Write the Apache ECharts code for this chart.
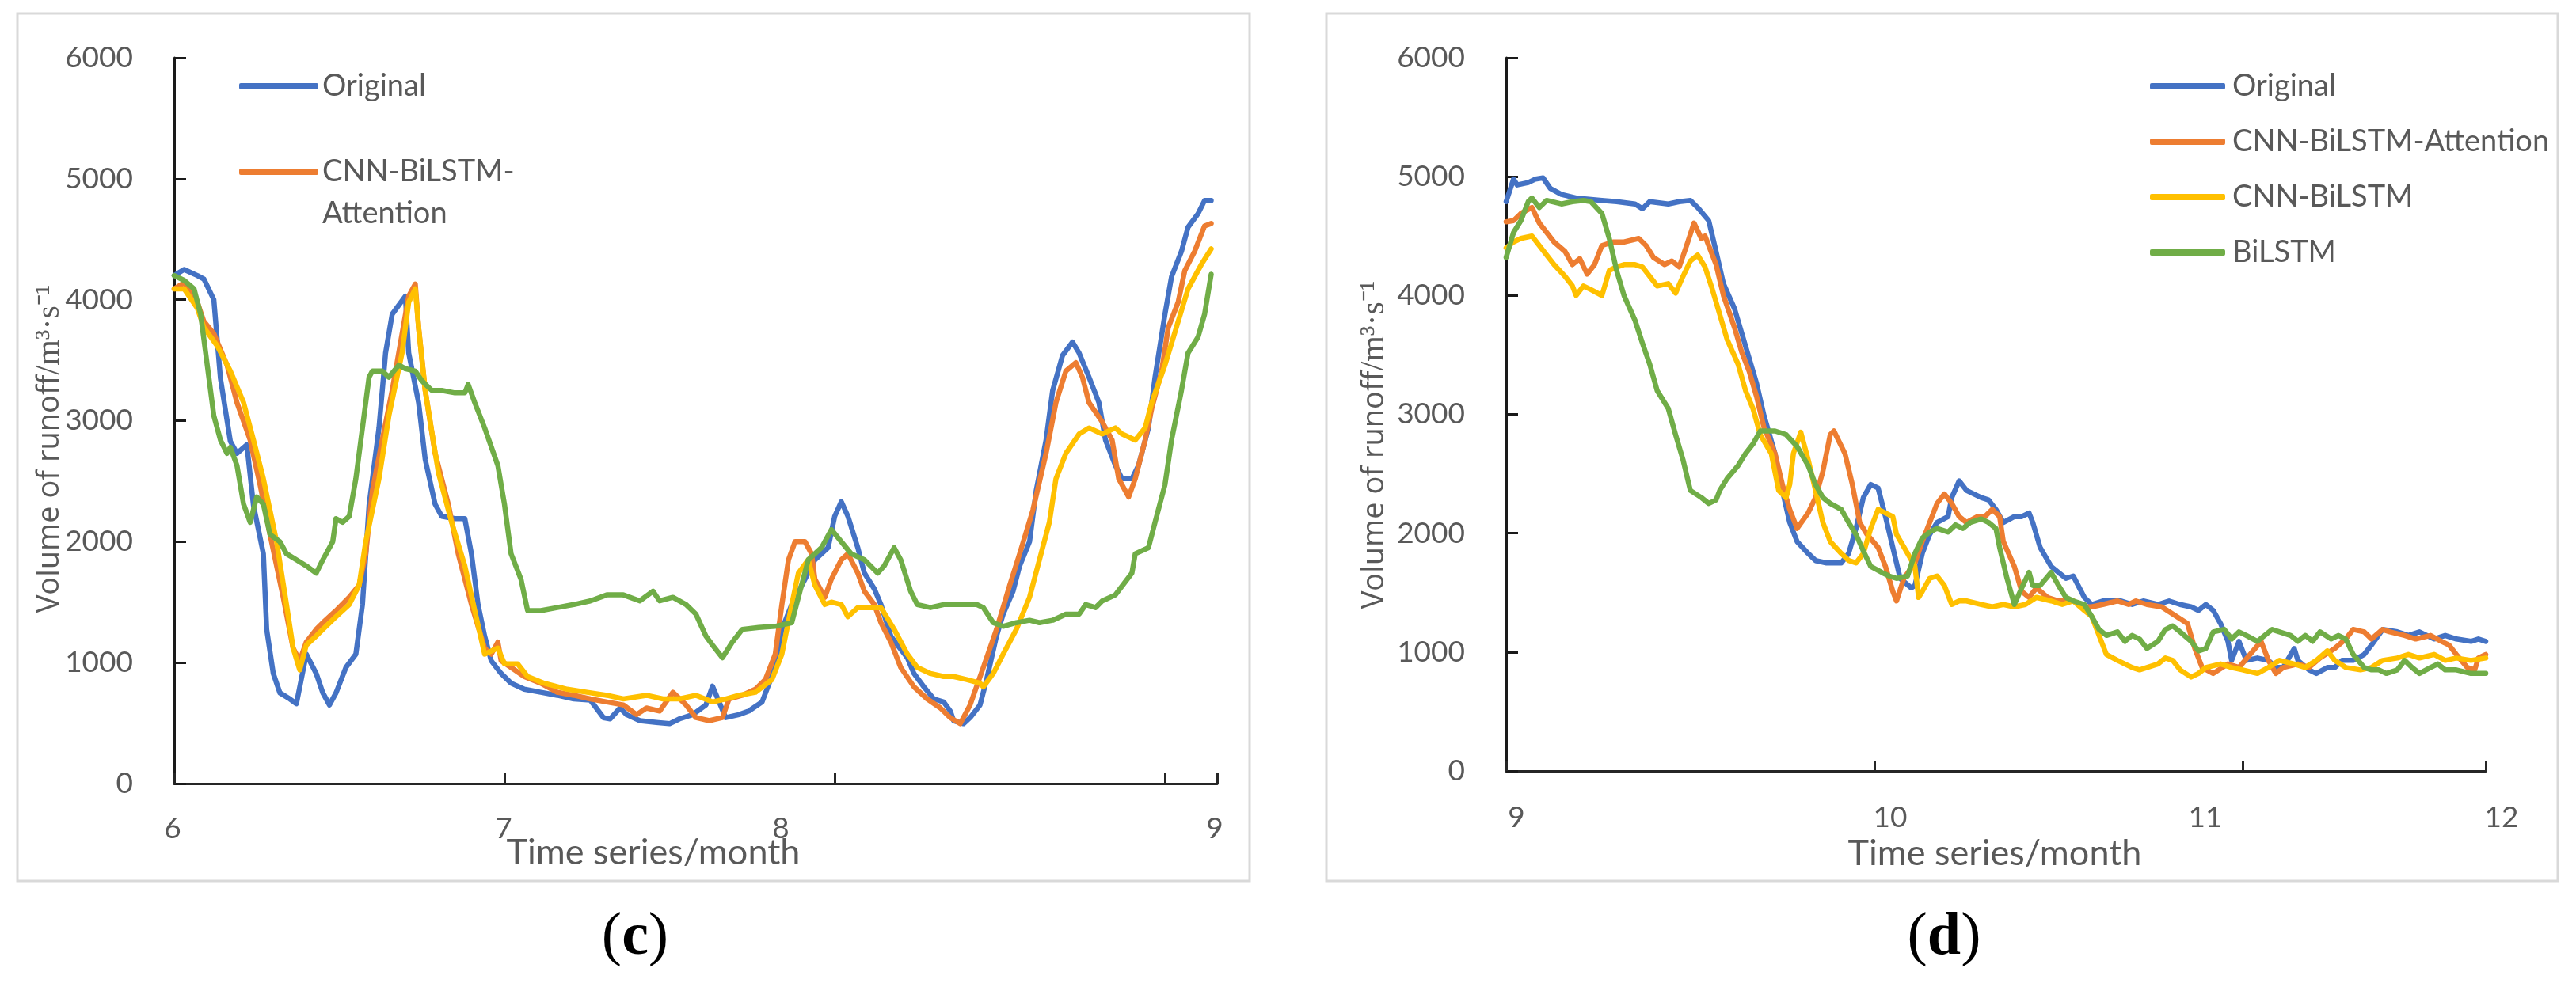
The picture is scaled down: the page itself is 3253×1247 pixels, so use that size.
<!DOCTYPE html>
<html><head><meta charset="utf-8">
<script src="https://cdn.jsdelivr.net/npm/echarts@6/dist/echarts.min.js"></script>
<style>html,body{margin:0;padding:0;background:#fff}#c{width:3253px;height:1247px}</style>
</head><body><div id="c"></div>
<script>
// ---------- DATA ----------
const seriesNames = ['Original', 'CNN-BiLSTM-Attention', 'CNN-BiLSTM', 'BiLSTM'];
const legendNamesC = ['Original', 'CNN-BiLSTM-Attention'];
const legendNamesD = ['Original', 'CNN-BiLSTM-Attention', 'CNN-BiLSTM', 'BiLSTM'];
const xTickLabelsC = ['6', '7', '8', '9'];
const xTickLabelsD = ['9', '10', '11', '12'];
const yAxisTitle = ['Volume of runoff', '/m³·s⁻¹'];
const xAxisTitle = 'Time series/month';
const captions = ['c', 'd'];

// panel (c): June - September
const origC = [[6.00,4200],[6.03,4250],[6.07,4200],[6.09,4170],[6.12,4000],[6.14,3350],[6.17,2830],[6.19,2730],[6.22,2800],[6.24,2300],[6.27,1900],[6.28,1275],[6.30,910],[6.32,750],[6.35,700],[6.37,660],[6.40,1070],[6.43,910],[6.45,750],[6.47,650],[6.49,750],[6.52,960],[6.55,1070],[6.57,1480],[6.59,2300],[6.62,2940],[6.64,3560],[6.66,3880],[6.70,4030],[6.71,3560],[6.74,3150],[6.76,2680],[6.79,2310],[6.81,2210],[6.85,2190],[6.88,2190],[6.90,1900],[6.92,1480],[6.94,1220],[6.96,1015],[6.99,910],[7.02,830],[7.06,780],[7.11,755],[7.16,730],[7.21,700],[7.26,690],[7.30,545],[7.32,535],[7.35,625],[7.37,570],[7.41,520],[7.46,505],[7.50,495],[7.53,535],[7.57,570],[7.61,650],[7.63,805],[7.65,675],[7.67,545],[7.71,570],[7.74,600],[7.78,675],[7.82,960],[7.84,1275],[7.87,1480],[7.91,1690],[7.94,1850],[7.98,1950],[8.00,2210],[8.02,2330],[8.04,2210],[8.07,1950],[8.09,1740],[8.12,1610],[8.14,1480],[8.17,1220],[8.19,1145],[8.22,1040],[8.24,910],[8.27,800],[8.30,700],[8.33,675],[8.35,600],[8.36,520],[8.39,495],[8.41,545],[8.44,650],[8.46,860],[8.49,1220],[8.51,1400],[8.54,1590],[8.56,1800],[8.59,2000],[8.61,2420],[8.64,2840],[8.66,3250],[8.69,3540],[8.72,3650],[8.74,3560],[8.77,3360],[8.80,3150],[8.82,2840],[8.85,2630],[8.87,2520],[8.90,2520],[8.92,2630],[8.95,2940],[8.97,3360],[9.00,3880],[9.02,4190],[9.05,4400],[9.07,4600],[9.10,4710],[9.12,4820],[9.14,4820]];
const attnC = [[6.00,4090],[6.03,4140],[6.07,3980],[6.09,3820],[6.12,3720],[6.16,3460],[6.19,3150],[6.23,2840],[6.26,2470],[6.29,2060],[6.33,1540],[6.36,1120],[6.38,1015],[6.40,1170],[6.43,1275],[6.45,1330],[6.49,1430],[6.53,1540],[6.56,1640],[6.58,1900],[6.60,2420],[6.63,2840],[6.66,3250],[6.69,3720],[6.71,4030],[6.73,4130],[6.74,3770],[6.76,3250],[6.79,2730],[6.83,2310],[6.86,1900],[6.90,1480],[6.94,1120],[6.96,1070],[6.98,1170],[6.99,1015],[7.02,960],[7.06,885],[7.11,830],[7.16,755],[7.21,730],[7.26,700],[7.31,675],[7.36,650],[7.40,570],[7.43,625],[7.47,600],[7.51,755],[7.55,650],[7.58,545],[7.62,520],[7.66,545],[7.68,700],[7.72,730],[7.76,780],[7.79,860],[7.82,1070],[7.84,1480],[7.86,1850],[7.88,2000],[7.91,2000],[7.93,1900],[7.94,1690],[7.97,1540],[7.99,1690],[8.02,1850],[8.04,1900],[8.07,1740],[8.09,1590],[8.12,1480],[8.14,1330],[8.17,1170],[8.20,960],[8.24,800],[8.28,700],[8.32,625],[8.35,545],[8.38,495],[8.41,650],[8.45,960],[8.49,1275],[8.53,1640],[8.56,1900],[8.60,2260],[8.64,2730],[8.67,3150],[8.70,3410],[8.73,3480],[8.75,3360],[8.77,3150],[8.81,2990],[8.84,2840],[8.86,2520],[8.89,2370],[8.91,2520],[8.94,2840],[8.96,3100],[8.99,3410],[9.01,3770],[9.04,3980],[9.06,4240],[9.09,4400],[9.12,4610],[9.14,4630]];
const cnnC = [[6.00,4090],[6.03,4090],[6.07,3930],[6.09,3770],[6.13,3620],[6.17,3410],[6.21,3150],[6.24,2840],[6.27,2520],[6.31,2000],[6.34,1480],[6.36,1120],[6.38,940],[6.40,1145],[6.43,1220],[6.45,1275],[6.49,1380],[6.53,1480],[6.56,1640],[6.58,2000],[6.62,2520],[6.65,3040],[6.69,3560],[6.71,3980],[6.73,4090],[6.74,3770],[6.76,3250],[6.80,2570],[6.84,2160],[6.88,1800],[6.91,1430],[6.94,1070],[6.98,1120],[7.00,990],[7.04,990],[7.07,885],[7.12,830],[7.19,780],[7.25,755],[7.31,730],[7.36,700],[7.43,730],[7.48,700],[7.53,700],[7.58,730],[7.63,675],[7.67,700],[7.71,730],[7.76,755],[7.81,860],[7.84,1070],[7.87,1480],[7.89,1740],[7.92,1850],[7.94,1640],[7.97,1480],[7.99,1500],[8.02,1480],[8.04,1380],[8.07,1455],[8.10,1455],[8.14,1455],[8.18,1275],[8.22,1070],[8.25,960],[8.29,910],[8.33,885],[8.36,885],[8.40,860],[8.44,830],[8.45,800],[8.48,910],[8.51,1070],[8.55,1275],[8.59,1540],[8.62,1850],[8.65,2160],[8.67,2520],[8.70,2730],[8.74,2890],[8.77,2940],[8.81,2890],[8.85,2940],[8.87,2890],[8.91,2840],[8.94,2940],[8.96,3150],[9.00,3460],[9.04,3820],[9.07,4090],[9.11,4290],[9.14,4420]];
const bilC = [[6.00,4200],[6.03,4160],[6.06,4090],[6.08,3880],[6.10,3460],[6.12,3040],[6.14,2840],[6.16,2730],[6.17,2780],[6.19,2630],[6.21,2310],[6.23,2160],[6.25,2370],[6.27,2310],[6.29,2060],[6.32,2000],[6.34,1900],[6.37,1850],[6.40,1800],[6.43,1740],[6.45,1850],[6.48,2000],[6.49,2190],[6.51,2160],[6.53,2210],[6.55,2520],[6.57,2940],[6.59,3360],[6.60,3410],[6.63,3410],[6.65,3360],[6.68,3460],[6.70,3430],[6.73,3410],[6.75,3330],[6.78,3250],[6.81,3250],[6.85,3230],[6.88,3230],[6.89,3300],[6.91,3150],[6.94,2940],[6.98,2630],[7.00,2310],[7.02,1900],[7.05,1690],[7.07,1430],[7.11,1430],[7.16,1455],[7.21,1480],[7.26,1510],[7.31,1560],[7.36,1560],[7.41,1510],[7.45,1590],[7.47,1510],[7.51,1540],[7.55,1480],[7.58,1400],[7.61,1220],[7.63,1145],[7.66,1040],[7.69,1170],[7.72,1275],[7.77,1290],[7.82,1300],[7.87,1330],[7.89,1540],[7.92,1850],[7.96,1950],[7.99,2100],[8.02,2000],[8.05,1900],[8.09,1850],[8.13,1740],[8.15,1800],[8.18,1950],[8.20,1850],[8.23,1590],[8.25,1480],[8.29,1455],[8.33,1480],[8.38,1480],[8.43,1480],[8.45,1455],[8.48,1330],[8.51,1300],[8.55,1330],[8.59,1350],[8.62,1330],[8.66,1350],[8.70,1400],[8.74,1400],[8.76,1480],[8.79,1455],[8.81,1510],[8.85,1560],[8.90,1740],[8.91,1900],[8.95,1950],[8.97,2160],[9.00,2470],[9.02,2840],[9.05,3250],[9.07,3560],[9.10,3690],[9.12,3880],[9.14,4210]];

// panel (d): September - December
const origD = [[9.00,4790],[9.02,4980],[9.03,4930],[9.06,4950],[9.08,4980],[9.10,4990],[9.12,4900],[9.15,4850],[9.19,4820],[9.26,4800],[9.30,4790],[9.35,4770],[9.37,4730],[9.39,4790],[9.44,4770],[9.47,4790],[9.50,4800],[9.52,4740],[9.55,4630],[9.57,4370],[9.59,4100],[9.62,3890],[9.64,3680],[9.66,3470],[9.68,3260],[9.70,2990],[9.73,2670],[9.75,2360],[9.77,2090],[9.79,1930],[9.82,1830],[9.84,1770],[9.87,1750],[9.91,1750],[9.93,1830],[9.95,2040],[9.97,2300],[9.99,2410],[10.01,2380],[10.03,2140],[10.05,1880],[10.07,1620],[10.10,1540],[10.11,1560],[10.13,1830],[10.15,1990],[10.17,2090],[10.20,2140],[10.21,2300],[10.23,2440],[10.25,2360],[10.29,2300],[10.31,2280],[10.33,2200],[10.35,2090],[10.38,2140],[10.40,2140],[10.42,2170],[10.43,2090],[10.45,1880],[10.48,1720],[10.50,1670],[10.52,1620],[10.54,1640],[10.57,1460],[10.59,1400],[10.62,1430],[10.67,1430],[10.70,1400],[10.73,1430],[10.77,1400],[10.80,1430],[10.83,1400],[10.86,1380],[10.88,1350],[10.90,1400],[10.92,1350],[10.94,1240],[10.96,1090],[10.97,930],[10.99,1090],[11.01,930],[11.04,950],[11.07,930],[11.09,870],[11.11,870],[11.14,1030],[11.15,930],[11.18,850],[11.20,820],[11.23,870],[11.25,870],[11.27,930],[11.30,930],[11.33,980],[11.35,1060],[11.38,1190],[11.42,1170],[11.45,1140],[11.48,1170],[11.52,1110],[11.55,1140],[11.58,1110],[11.62,1090],[11.64,1110],[11.66,1090]];
const attnD = [[9.00,4620],[9.02,4630],[9.04,4690],[9.07,4740],[9.09,4610],[9.11,4530],[9.13,4450],[9.16,4370],[9.18,4260],[9.20,4310],[9.22,4180],[9.24,4260],[9.26,4420],[9.29,4450],[9.32,4450],[9.36,4480],[9.38,4420],[9.40,4320],[9.43,4260],[9.45,4290],[9.47,4240],[9.49,4420],[9.51,4610],[9.53,4480],[9.54,4500],[9.57,4260],[9.59,4000],[9.62,3730],[9.64,3520],[9.66,3360],[9.68,3150],[9.70,2890],[9.73,2670],[9.75,2410],[9.77,2200],[9.79,2040],[9.82,2170],[9.84,2300],[9.86,2520],[9.88,2830],[9.89,2860],[9.92,2670],[9.94,2410],[9.96,2090],[9.98,1990],[10.01,1880],[10.03,1720],[10.05,1510],[10.06,1430],[10.08,1620],[10.11,1750],[10.13,1930],[10.15,2090],[10.17,2250],[10.19,2330],[10.21,2250],[10.23,2140],[10.25,2090],[10.28,2140],[10.30,2140],[10.32,2200],[10.34,2140],[10.35,1930],[10.38,1720],[10.40,1510],[10.42,1460],[10.44,1540],[10.47,1460],[10.50,1430],[10.54,1430],[10.57,1380],[10.59,1380],[10.62,1400],[10.66,1430],[10.69,1400],[10.71,1430],[10.74,1400],[10.78,1380],[10.81,1320],[10.85,1240],[10.87,1030],[10.89,870],[10.92,820],[10.96,900],[10.99,870],[11.02,980],[11.05,1090],[11.07,930],[11.09,820],[11.11,870],[11.15,900],[11.18,870],[11.21,950],[11.25,1030],[11.28,1110],[11.30,1190],[11.33,1170],[11.35,1110],[11.38,1190],[11.40,1170],[11.44,1140],[11.47,1110],[11.51,1140],[11.54,1090],[11.56,1060],[11.58,980],[11.61,870],[11.63,850],[11.64,950],[11.66,980]];
const cnnD = [[9.00,4400],[9.02,4450],[9.04,4480],[9.07,4500],[9.09,4420],[9.11,4340],[9.13,4260],[9.16,4160],[9.18,4080],[9.19,4000],[9.21,4080],[9.23,4050],[9.26,4000],[9.28,4210],[9.30,4240],[9.32,4260],[9.35,4260],[9.37,4240],[9.39,4160],[9.41,4080],[9.44,4100],[9.46,4020],[9.48,4160],[9.50,4290],[9.52,4340],[9.54,4240],[9.56,4050],[9.58,3840],[9.60,3630],[9.63,3420],[9.65,3200],[9.67,3050],[9.69,2830],[9.72,2670],[9.74,2360],[9.76,2300],[9.77,2410],[9.78,2670],[9.80,2850],[9.82,2620],[9.84,2360],[9.86,2090],[9.88,1930],[9.91,1830],[9.93,1770],[9.95,1750],[9.97,1830],[9.99,2040],[10.01,2200],[10.03,2170],[10.05,2140],[10.06,1990],[10.09,1830],[10.11,1720],[10.12,1460],[10.13,1510],[10.15,1620],[10.17,1640],[10.19,1560],[10.21,1400],[10.23,1430],[10.25,1430],[10.29,1400],[10.32,1380],[10.35,1400],[10.38,1380],[10.41,1400],[10.44,1460],[10.48,1430],[10.51,1400],[10.54,1430],[10.57,1350],[10.59,1300],[10.61,1140],[10.63,980],[10.66,930],[10.68,900],[10.70,870],[10.72,850],[10.74,870],[10.77,900],[10.79,950],[10.81,930],[10.83,850],[10.86,790],[10.88,820],[10.90,870],[10.94,900],[10.97,870],[11.00,850],[11.04,820],[11.07,870],[11.10,930],[11.14,900],[11.17,870],[11.20,930],[11.23,1010],[11.25,930],[11.28,870],[11.32,850],[11.35,870],[11.38,930],[11.42,950],[11.45,980],[11.48,950],[11.52,980],[11.55,930],[11.58,950],[11.62,930],[11.66,950]];
const bilD = [[9.00,4320],[9.02,4530],[9.04,4630],[9.06,4790],[9.07,4820],[9.09,4740],[9.11,4800],[9.15,4770],[9.18,4790],[9.21,4800],[9.23,4790],[9.26,4690],[9.28,4480],[9.30,4210],[9.32,4000],[9.35,3790],[9.37,3600],[9.39,3420],[9.41,3200],[9.44,3050],[9.46,2830],[9.48,2620],[9.50,2360],[9.53,2300],[9.55,2250],[9.57,2280],[9.58,2360],[9.60,2460],[9.63,2570],[9.65,2670],[9.67,2750],[9.69,2860],[9.73,2860],[9.76,2830],[9.79,2730],[9.82,2570],[9.84,2410],[9.86,2300],[9.88,2250],[9.91,2200],[9.93,2090],[9.95,1990],[9.97,1850],[9.99,1720],[10.02,1670],[10.04,1640],[10.06,1620],[10.09,1640],[10.11,1830],[10.13,1960],[10.15,2010],[10.17,2040],[10.20,2010],[10.22,2070],[10.24,2040],[10.26,2090],[10.29,2120],[10.31,2090],[10.33,2040],[10.34,1880],[10.36,1620],[10.38,1400],[10.40,1540],[10.42,1670],[10.43,1560],[10.45,1560],[10.48,1670],[10.50,1560],[10.52,1460],[10.54,1430],[10.57,1400],[10.59,1300],[10.61,1190],[10.63,1140],[10.66,1170],[10.68,1090],[10.70,1140],[10.72,1110],[10.74,1030],[10.77,1090],[10.79,1190],[10.81,1220],[10.83,1170],[10.86,1090],[10.88,1010],[10.90,1030],[10.92,1170],[10.95,1190],[10.97,1110],[10.99,1170],[11.01,1140],[11.04,1090],[11.06,1140],[11.08,1190],[11.10,1170],[11.13,1140],[11.15,1090],[11.17,1140],[11.19,1090],[11.21,1170],[11.24,1110],[11.26,1140],[11.28,1110],[11.30,980],[11.33,870],[11.35,850],[11.37,850],[11.39,820],[11.42,850],[11.44,930],[11.46,870],[11.48,820],[11.51,870],[11.53,900],[11.55,850],[11.58,850],[11.62,820],[11.66,820]];

// ---------- LAYOUT / STYLE ----------
const colors = ['#4472C4', '#ED7D31', '#FFC000', '#70AD47'];
const gray = '#595959';
const sans = 'Lato';
const P = {
  c: { grid: {left: 220, top: 73, width: 1317, height: 917}, xMin: 6, xMax: 9.158,
       tickX: [218, 636, 986, 1534], tickY: 1047, titleX: 825, titleY: 1077,
       yTitle: [63, 567], box: [22, 17, 1556, 1096], cap: [802, 1185] },
  d: { grid: {left: 1902, top: 73, width: 1237, height: 901}, xMin: 9, xMax: 11.66,
       tickX: [1915, 2387, 2785, 3159], tickY: 1033, titleX: 2519, titleY: 1078,
       yTitle: [1736, 562], box: [1675, 17, 1555, 1096], cap: [2455, 1185] }
};

function xAxisOf(p, gi) {
  return { type: 'value', gridIndex: gi, min: p.xMin, max: p.xMax, interval: 1,
    axisLine: {show: true, onZero: false, lineStyle: {color: '#262626', width: 3}},
    axisTick: {show: true, inside: true, length: 13, lineStyle: {color: '#262626', width: 3}},
    axisLabel: {show: false}, splitLine: {show: false} };
}
function yAxisOf(gi) {
  return { type: 'value', gridIndex: gi, min: 0, max: 6000, interval: 1000,
    axisLine: {show: true, lineStyle: {color: '#1a1a1a', width: 3}},
    axisTick: {show: true, inside: true, length: 15, lineStyle: {color: '#1a1a1a', width: 3}},
    axisLabel: {show: true, margin: 52, fontFamily: sans, fontSize: 37, color: gray,
                formatter: v => String(v)},
    splitLine: {show: false} };
}
const dataC = [origC, attnC, cnnC, bilC];
const dataD = [origD, attnD, cnnD, bilD];
const series = [];
[dataC, dataD].forEach((set, gi) => {
  set.forEach((d, i) => series.push({
    name: seriesNames[i], type: 'line', xAxisIndex: gi, yAxisIndex: gi, data: d,
    showSymbol: false, symbol: 'none', smooth: false, animation: false,
    lineStyle: {color: colors[i], width: 6.5, join: 'round', cap: 'round'},
    itemStyle: {color: colors[i]}
  }));
});

const graphic = [];
[['c', xTickLabelsC], ['d', xTickLabelsD]].forEach(([k, labels], idx) => {
  const p = P[k];
  graphic.push({id: k + 'box', type: 'rect', shape: {x: p.box[0], y: p.box[1], width: p.box[2], height: p.box[3]},
    style: {fill: 'none', stroke: '#d9d9d9', lineWidth: 3}, silent: true, z: -10});
  labels.forEach((t, i) => graphic.push({id: k + 'tick' + i, type: 'text', x: p.tickX[i], y: p.tickY,
    style: {text: t, fontFamily: sans, fontSize: 37, fill: gray, align: 'center', verticalAlign: 'middle'}}));
  graphic.push({id: k + 'xt', type: 'text', x: p.titleX, y: p.titleY,
    style: {text: xAxisTitle, fontFamily: sans, fontSize: 45, fill: gray, align: 'center', verticalAlign: 'middle'}});
  graphic.push({id: k + 'yt', type: 'text', x: p.yTitle[0], y: p.yTitle[1], rotation: Math.PI / 2,
    style: {text: '{a|' + yAxisTitle[0] + '}{b|' + yAxisTitle[1] + '}', align: 'center', verticalAlign: 'middle',
      rich: {a: {fontFamily: 'Open Sans', fontSize: 38, fill: gray, color: gray},
             b: {fontFamily: 'Liberation Serif', fontSize: 42, fill: gray, color: gray}}}});
  graphic.push({id: k + 'cap', type: 'text', x: p.cap[0], y: p.cap[1],
    style: {text: '{p|(}{l|' + captions[idx] + '}{p|)}', align: 'center', verticalAlign: 'middle',
      rich: {p: {fontFamily: 'Liberation Serif', fontSize: 76, color: '#000', fill: '#000'},
             l: {fontFamily: 'Liberation Serif', fontSize: 76, fontWeight: 'bold', color: '#000', fill: '#000'}}}});
});

const chart = echarts.init(document.getElementById('c'), null, {renderer: 'canvas'});
chart.setOption({
  animation: false,
  backgroundColor: '#fff',
  color: colors,
  grid: [P.c.grid, P.d.grid],
  xAxis: [xAxisOf(P.c, 0), xAxisOf(P.d, 1)],
  yAxis: [yAxisOf(0), yAxisOf(1)],
  legend: [
    { data: legendNamesC, orient: 'vertical', left: 297, top: 85, itemGap: 17,
      icon: 'roundRect', itemWidth: 100, itemHeight: 8,
      formatter: n => n === 'CNN-BiLSTM-Attention' ? '{e| }\n{a|CNN-BiLSTM-}\n{a|Attention}' : '{a|' + n + '}',
      textStyle: {color: gray, rich: {a: {fontFamily: sans, fontSize: 38, lineHeight: 53, color: gray},
                                        e: {fontSize: 38, lineHeight: 53}}} },
    { data: legendNamesD, orient: 'vertical', left: 2710, top: 85, itemGap: 32,
      icon: 'roundRect', itemWidth: 95, itemHeight: 8,
      formatter: n => '{a|' + n + '}',
      textStyle: {color: gray, rich: {a: {fontFamily: sans, fontSize: 38, color: gray, padding: [0, 0, 0, 4]}}} }
  ],
  graphic: graphic,
  series: series
});
</script></body></html>
